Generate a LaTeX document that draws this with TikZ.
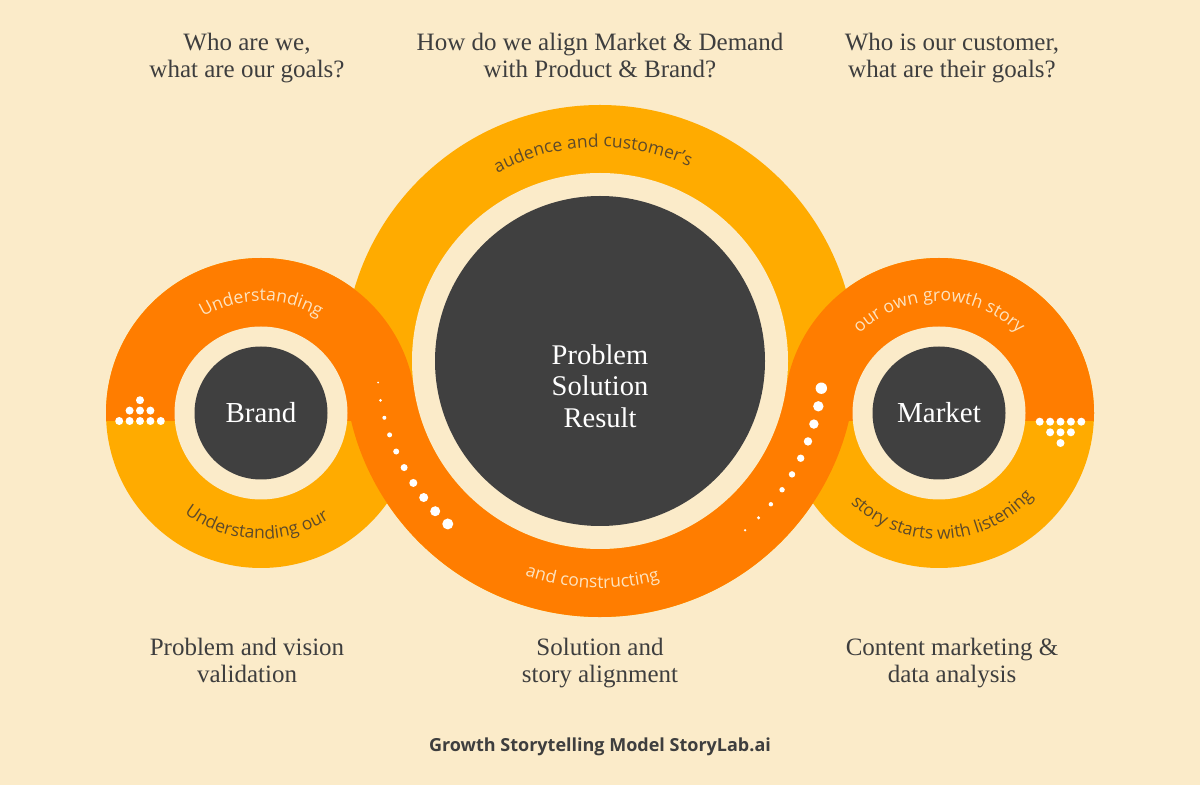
\documentclass[tikz,border=0pt]{standalone}
\usepackage{fontspec}
\setmainfont{Liberation Serif}
\newfontfamily\osans{Open Sans}
\usetikzlibrary{decorations.text}
\definecolor{cream}{HTML}{FBEBC9}
\definecolor{dor}{HTML}{FF7D00}
\definecolor{lor}{HTML}{FFAB00}
\definecolor{dgray}{HTML}{404040}
\definecolor{txt}{HTML}{3E3E3E}
\definecolor{lighttxt}{HTML}{FDE3C0}
\definecolor{darktxt}{HTML}{5E4A2A}
\begin{document}
\begin{tikzpicture}[x=1pt,y=1pt,
  hub/.style={circle, fill=dgray, inner sep=0pt, draw=none},
  hubtext/.style={text=white, font=\fontsize{29}{31}\selectfont, align=center, inner sep=0pt},
  head/.style={text=txt, font=\fontsize{25}{27}\selectfont, anchor=base, inner sep=0pt},
  dotw/.style={fill=white},
  arctxt/.style={decorate, decoration={text along path, text align=center, text={#1}}}
]
\fill[cream] (0,0) rectangle (1200,785);
\useasboundingbox (0,0) rectangle (1200,785);
\coordinate (C1) at (261,372);
\coordinate (C2) at (600,424);
\coordinate (C3) at (939,372);
% rings
\fill[lor] (C2) circle[radius=256];
\fill[lor] (C1) circle[radius=155];
\fill[lor] (C3) circle[radius=155];
\begin{scope}
  \clip (0,364) rectangle (1200,785);
  \fill[dor] (C1) circle[radius=155];
  \fill[dor] (C3) circle[radius=155];
\end{scope}
\draw[dor, line width=68pt] ([shift={(188.72:222)}]C2) arc[start angle=188.72, end angle=351.28, radius=222];
\fill[cream] (C1) circle[radius=86.5];
\fill[cream] (C3) circle[radius=86.5];
\fill[cream] (C2) circle[radius=188];
% hubs
\node[hub, minimum size=133pt] (brand) at (C1) {};
\node[hub, minimum size=133pt] (market) at (C3) {};
\node[hub, minimum size=330pt] (psr) at (C2) {};
\node[hubtext] (brandt) at (brand.center) {Brand};
\node[hubtext] (markett) at (market.center) {Market};
\node[hubtext, font=\fontsize{28.5}{31.5}\selectfont] (psrt) at (600,399) {Problem\\Solution\\Result};
% pyramids
\foreach \x in {-2,...,2} \fill[dotw] ([shift={(\x*10.4-121,-8)}]C1) circle[radius=4];
\foreach \x in {-1,0,1} \fill[dotw] ([shift={(\x*10.4-121,2.4)}]C1) circle[radius=4];
\fill[dotw] ([shift={(-121,12.8)}]C1) circle[radius=4];
\foreach \x in {-2,...,2} \fill[dotw] ([shift={(\x*10.4+121.5,-8.7)}]C3) circle[radius=4];
\foreach \x in {-1,0,1} \fill[dotw] ([shift={(\x*10.4+121.5,-19.3)}]C3) circle[radius=4];
\fill[dotw] ([shift={(121.5,-30)}]C3) circle[radius=4];
% dot chains
\foreach \i in {0,...,9} \fill[dotw] ([shift={({185.55+4.6*\i}:223)}]C2) circle[radius={1+0.5*\i}];
\foreach \i in {0,...,9} \fill[dotw] ([shift={({-49.4+4.71*\i}:223)}]C2) circle[radius={1.2+0.5*\i}];
% arc texts
\path[arctxt={|\osans\fontsize{17.5}{17.5}\selectfont\color{lighttxt}|Understanding}] ([shift={(180:112)}]C1) arc[start angle=180, end angle=0, radius=112];
\path[arctxt={|\osans\fontsize{17.5}{17.5}\selectfont\color{darktxt}|Understanding our}] ([shift={(177.7:126)}]C1) arc[start angle=177.7, end angle=357.7, radius=126];
\path[arctxt={|\osans\fontsize{17.5}{17.5}\selectfont\color{darktxt}|audence and customer’s}] ([shift={(182:214)}]C2) arc[start angle=182, end angle=2, radius=214];
\path[arctxt={|\osans\fontsize{17.5}{17.5}\selectfont\color{lighttxt}|and constructing}] ([shift={(178:227)}]C2) arc[start angle=178, end angle=358, radius=227];
\path[arctxt={|\osans\fontsize{17.5}{17.5}\selectfont\color{lighttxt}|our own growth story}] ([shift={(180:112)}]C3) arc[start angle=180, end angle=0, radius=112];
\path[arctxt={|\osans\fontsize{17.5}{17.5}\selectfont\color{darktxt}|story starts with listening}] ([shift={(182:126)}]C3) arc[start angle=182, end angle=362, radius=126];
% headings
\node[head] (h1a) at (247,734) {Who are we,};
\node[head] (h1b) at (247,707) {what are our goals?};
\node[head] (h2a) at (600,734) {How do we align Market \& Demand};
\node[head] (h2b) at (600,707) {with Product \& Brand?};
\node[head] (h3a) at (952,734) {Who is our customer,};
\node[head] (h3b) at (952,707) {what are their goals?};
\node[head] (b1a) at (247,129) {Problem and vision};
\node[head] (b1b) at (247,102) {validation};
\node[head] (b2a) at (600,129) {Solution and};
\node[head] (b2b) at (600,102) {story alignment};
\node[head] (b3a) at (952,129) {Content marketing \&};
\node[head] (b3b) at (952,102) {data analysis};
\node[anchor=base, inner sep=0pt, text=txt, font=\osans\bfseries\fontsize{18}{18}\selectfont] (foot) at (600,34) {Growth Storytelling Model StoryLab.ai};
\end{tikzpicture}
\end{document}
